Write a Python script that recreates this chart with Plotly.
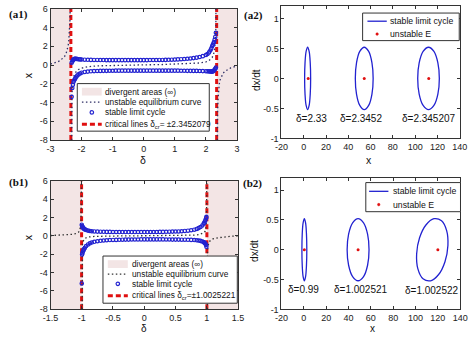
import plotly.graph_objects as go

W, H = 474, 338
def px(x): return x / W
def py(y): return 1 - y / H

# ---------------- data ----------------
DCR_A = 2.3452079
DCR_B = 1.0025221

# (a1) stable limit cycle branches
A1_D = [-2.32, -2.30, -2.28, -2.26, -2.24, -2.22, -2.20, -2.17, -2.14, -2.10, -2.05, -2.00,
        -1.9, -1.8, -1.7, -1.6, -1.5, -1.4, -1.3, -1.2, -1.1, -1.0, -0.9, -0.8, -0.7, -0.6,
        -0.5, -0.4, -0.3, -0.2, -0.1, 0.0, 0.1, 0.2, 0.3, 0.4, 0.5, 0.6, 0.7, 0.8, 0.9, 1.0,
        1.1, 1.2, 1.3, 1.4, 1.5, 1.6, 1.7, 1.8, 1.9,
        2.00, 2.05, 2.10, 2.14, 2.17, 2.20, 2.22, 2.24, 2.26, 2.28, 2.30, 2.32]
A1_UP = [0.25, 0.38, 0.50, 0.58, 0.63, 0.66, 0.67, 0.66, 0.64, 0.62, 0.60, 0.59,
         0.57, 0.56, 0.55, 0.54, 0.54, 0.53, 0.53, 0.52, 0.52, 0.52, 0.52, 0.52, 0.52, 0.52,
         0.52, 0.52, 0.52, 0.52, 0.52, 0.52, 0.52, 0.53, 0.53, 0.53, 0.54, 0.54, 0.55, 0.56, 0.57, 0.58,
         0.60, 0.62, 0.64, 0.67, 0.70, 0.74, 0.79, 0.86, 0.95,
         1.07, 1.18, 1.35, 1.55, 1.75, 2.00, 2.15, 2.30, 2.45, 2.70, 3.00, 3.45]
A1_LO = [-3.40, -2.45, -2.10, -1.80, -1.65, -1.52, -1.40, -1.25, -1.12, -1.00, -0.90, -0.82,
         -0.74, -0.70, -0.67, -0.65, -0.64, -0.63, -0.62, -0.62, -0.61, -0.61, -0.60, -0.60, -0.60, -0.60,
         -0.60, -0.60, -0.60, -0.60, -0.60, -0.60, -0.60, -0.60, -0.60, -0.60, -0.60, -0.60, -0.60, -0.60, -0.60, -0.60,
         -0.60, -0.61, -0.61, -0.62, -0.62, -0.63, -0.63, -0.64, -0.65,
         -0.66, -0.67, -0.68, -0.69, -0.70, -0.70, -0.68, -0.64, -0.58, -0.50, -0.40, -0.28]

# (a1) unstable equilibrium curve (three pieces separated by None)
A1_EQ_D = [-3.0, -2.9, -2.8, -2.7, -2.6, -2.55, -2.5, -2.46, -2.43, -2.41, -2.39, -2.375, -2.365, -2.355, -2.35, None,
           -2.34, -2.335, -2.33, -2.32, -2.31, -2.30, -2.28, -2.25, -2.2, -2.1, -2.0, -1.8, -1.5, -1.0, -0.5,
           0.0, 0.5, 1.0, 1.5, 1.8, 2.0, 2.1, 2.2, 2.25, 2.28, 2.30, 2.31, 2.32, 2.33, 2.335, 2.34, None,
           2.35, 2.355, 2.365, 2.375, 2.39, 2.41, 2.43, 2.46, 2.5, 2.55, 2.6, 2.7, 2.8, 2.9, 3.0]
A1_EQ_X = [0.12, 0.2, 0.3, 0.45, 0.7, 0.9, 1.2, 1.6, 2.1, 2.7, 3.6, 4.8, 6.5, 10, 20, None,
           -20, -9, -6, -4, -3, -2.4, -1.7, -1.2, -0.8, -0.48, -0.33, -0.18, -0.09, -0.03, 0.0,
           0.02, 0.04, 0.08, 0.14, 0.22, 0.33, 0.48, 0.8, 1.2, 1.7, 2.4, 3.0, 4.0, 6.0, 9, 20, None,
           -20, -10, -6.5, -4.8, -3.6, -2.5, -2.0, -1.55, -1.2, -0.9, -0.7, -0.45, -0.3, -0.2, -0.1]

# (b1) stable limit cycle branches
B1_D = [-1.000, -0.995, -0.99, -0.98, -0.97, -0.96, -0.95, -0.93, -0.90, -0.87, -0.84, -0.80, -0.75, -0.70,
        -0.65, -0.60, -0.55, -0.50, -0.45, -0.40, -0.35, -0.30, -0.25, -0.20, -0.15, -0.10, -0.05, 0.00,
        0.05, 0.10, 0.15, 0.20, 0.25, 0.30, 0.35, 0.40, 0.45, 0.50, 0.55, 0.60, 0.65,
        0.70, 0.75, 0.80, 0.84, 0.87, 0.90, 0.93, 0.95, 0.96, 0.97, 0.98, 0.99, 0.995]
B1_UP = [1.20, 1.08, 0.98, 0.88, 0.80, 0.74, 0.69, 0.62, 0.56, 0.52, 0.49, 0.47, 0.45, 0.44,
         0.43, 0.42, 0.42, 0.41, 0.41, 0.40, 0.40, 0.40, 0.40, 0.40, 0.40, 0.40, 0.40, 0.40,
         0.40, 0.41, 0.41, 0.41, 0.42, 0.42, 0.43, 0.44, 0.45, 0.46, 0.47, 0.49, 0.52,
         0.55, 0.60, 0.66, 0.74, 0.83, 0.95, 1.12, 1.30, 1.42, 1.55, 1.72, 1.90, 2.05]
B1_LO = [-5.20, -2.05, -1.90, -1.72, -1.55, -1.42, -1.30, -1.12, -0.95, -0.83, -0.74, -0.66, -0.60, -0.55,
         -0.52, -0.49, -0.47, -0.46, -0.45, -0.44, -0.43, -0.42, -0.42, -0.41, -0.41, -0.41, -0.40, -0.40,
         -0.40, -0.40, -0.40, -0.40, -0.40, -0.40, -0.41, -0.41, -0.42, -0.42, -0.42, -0.43, -0.43,
         -0.44, -0.45, -0.47, -0.49, -0.52, -0.56, -0.62, -0.69, -0.74, -0.80, -0.88, -1.00, -1.20]

# (b1) unstable equilibrium curve
B1_EQ_D = [-1.5, -1.4, -1.3, -1.2, -1.15, -1.1, -1.07, -1.05, -1.035, -1.025, -1.017, -1.012, -1.008, -1.006,
           -1.0045, -1.0035, -1.003, None,
           -1.002, -1.0015, -1.0005, -0.999, -0.997, -0.994, -0.99, -0.985, -0.975, -0.96, -0.93, -0.88, -0.8,
           -0.6, -0.3, 0.0, 0.3, 0.6, 0.8, 0.88, 0.93, 0.96, 0.975, 0.985, 0.99, 0.994, 0.997, 0.999, 1.0005,
           1.0015, 1.002, None,
           1.003, 1.0035, 1.0045, 1.006, 1.008, 1.012, 1.017, 1.025, 1.035, 1.05, 1.07, 1.1, 1.18, 1.3, 1.4, 1.5]
B1_EQ_X = [0.02, 0.04, 0.07, 0.12, 0.16, 0.22, 0.3, 0.4, 0.55, 0.75, 1.1, 1.6, 2.5, 3.5,
           6, 12, 25, None,
           -25, -12, -6, -3.5, -2.2, -1.5, -1.0, -0.72, -0.5, -0.35, -0.22, -0.13, -0.07,
           -0.03, -0.01, 0.0, 0.01, 0.03, 0.07, 0.13, 0.22, 0.35, 0.5, 0.72, 1.0, 1.5, 2.2, 3.5, 6,
           12, 25, None,
           -25, -12, -6, -3.5, -2.5, -1.7, -1.25, -0.95, -0.75, -0.58, -0.45, -0.34, -0.22, -0.1, -0.05, -0.02]

# (a2) limit cycles in phase plane
A2_C1_X = [6.2, 5.84, 4.85, 3.5, 2.15, 1.16, 0.8, 1.16, 2.15, 3.5, 4.85, 5.84, 6.2]
A2_C2_X = [62.3, 61.23, 58.3, 54.3, 50.3, 47.37, 46.3, 47.37, 50.3, 54.3, 58.3, 61.23, 62.3]
A2_C3_X = [121.7, 120.4, 116.85, 112, 107.15, 103.6, 102.3, 103.6, 107.15, 112, 116.85, 120.4, 121.7]
A2_C_Y = [0, 0.26, 0.45, 0.52, 0.45, 0.26, 0, -0.26, -0.45, -0.52, -0.45, -0.26, 0]
A2_E_X = [4.0, 54.3, 112.2]
A2_E_Y = [0, 0, 0]
A2_LABELS = ["δ=2.33", "δ=2.3452", "δ=2.345207"]
A2_LABEL_X = [6.9, 51.7, 112.5]
A2_LABEL_Y = [-0.67, -0.67, -0.67]

# (b2) limit cycles in phase plane
B2_C1_X = [2.7, 2.4, 1.6, 0.5, -0.6, -1.4, -1.7, -1.4, -0.6, 0.5, 1.6, 2.4, 2.7]
B2_C2_X = [58.4, 57.09, 53.5, 48.6, 43.7, 40.11, 38.8, 40.11, 43.7, 48.6, 53.5, 57.09, 58.4]
B2_C3_X = [129, 127.87, 123.3, 116.5, 109.3, 103.63, 101, 102.13, 106.7, 113.5, 120.7, 126.37, 129]
B2_C_Y = [0, 0.26, 0.45, 0.52, 0.45, 0.26, 0, -0.26, -0.45, -0.52, -0.45, -0.26, 0]
B2_C3_Y = [0.07, 0.32, 0.485, 0.52, 0.415, 0.2, -0.07, -0.32, -0.485, -0.52, -0.415, -0.2, 0.07]
B2_E_X = [0.5, 48.6, 120.0]
B2_E_Y = [0, 0, 0]
B2_LABELS = ["δ=0.99", "δ=1.002521", "δ=1.002522"]
B2_LABEL_X = [-0.5, 51.1, 114.5]
B2_LABEL_Y = [-0.66, -0.66, -0.68]

# ticks
X1_TICKS = [-3, -2, -1, 0, 1, 2, 3]
X1_TEXT = ["-3", "-2", "-1", "0", "1", "2", "3"]
Y1_TICKS = [6, 4, 2, 0, -2, -4, -6, -8]
Y1_TEXT = ["6", "4", "2", "0", "-2", "-4", "-6", "-8"]
X3_TICKS = [-1.5, -1, -0.5, 0, 0.5, 1, 1.5]
X3_TEXT = ["-1.5", "-1", "-0.5", "0", "0.5", "1", "1.5"]
X2_TICKS = [-20, 0, 20, 40, 60, 80, 100, 120, 140]
X2_TEXT = ["-20", "0", "20", "40", "60", "80", "100", "120", "140"]
Y2_TICKS = [-1, -0.5, 0, 0.5, 1]
Y2_TEXT = ["-1", "-0.5", "0", "0.5", "1"]

# ---------------- styles ----------------
FONT = "Arial, Liberation Sans, sans-serif"
SERIF = "Times New Roman, Liberation Serif, serif"
BLUE = "#2222d0"
RED = "#e01010"
PINK = "#f3e5e5"
EQ_A = "#2f2f66"
EQ_B = "#333333"
RED_DASH = "5px,3px"
EQ_DASH = "1.5px,2.5px"
LEG_SIZE = 8.3
TICK_SIZE = 9

fig = go.Figure()

def add_panel1(xa, ya, D, UP, LO, EQD, EQX, dcr, eqcol):
    for xv in (-dcr, dcr):
        fig.add_trace(go.Scatter(x=[xv, xv], y=[-8, 6], mode="lines", xaxis=xa, yaxis=ya,
                                 line=dict(color=RED, width=3, dash=RED_DASH), showlegend=False))
    fig.add_trace(go.Scatter(x=EQD, y=EQX, mode="lines", xaxis=xa, yaxis=ya, connectgaps=False,
                             line=dict(color=eqcol, width=1.3, dash=EQ_DASH), showlegend=False))
    for arr in (UP, LO):
        fig.add_trace(go.Scatter(x=D, y=arr, mode="markers", xaxis=xa, yaxis=ya, showlegend=False,
                                 marker=dict(symbol="circle-open", size=3.4, color=BLUE,
                                             line=dict(width=1.2, color=BLUE))))

add_panel1("x", "y", A1_D, A1_UP, A1_LO, A1_EQ_D, A1_EQ_X, DCR_A, EQ_A)
add_panel1("x3", "y3", B1_D, B1_UP, B1_LO, B1_EQ_D, B1_EQ_X, DCR_B, EQ_B)

def add_panel2(xa, ya, cycles, EX, EY):
    for cx, cy in cycles:
        fig.add_trace(go.Scatter(x=cx, y=cy, mode="lines", xaxis=xa, yaxis=ya, showlegend=False,
                                 line=dict(color=BLUE, width=1.3, shape="spline")))
    fig.add_trace(go.Scatter(x=EX, y=EY, mode="markers", xaxis=xa, yaxis=ya, showlegend=False,
                             marker=dict(symbol="circle", size=3, color=RED)))

add_panel2("x2", "y2", [(A2_C1_X, A2_C_Y), (A2_C2_X, A2_C_Y), (A2_C3_X, A2_C_Y)], A2_E_X, A2_E_Y)
add_panel2("x4", "y4", [(B2_C1_X, B2_C_Y), (B2_C2_X, B2_C_Y), (B2_C3_X, B2_C3_Y)], B2_E_X, B2_E_Y)

def ax(domain, rng, tv, tt, anchor):
    return dict(domain=domain, range=rng, tickvals=tv, ticktext=tt, anchor=anchor,
                showline=True, linecolor="#333", linewidth=1, mirror="ticks",
                ticks="inside", ticklen=3, tickcolor="#333", showgrid=False, zeroline=False,
                tickfont=dict(family=FONT, size=TICK_SIZE, color="#222"), fixedrange=True)

layout = dict(
    width=W, height=H, margin=dict(l=0, r=0, t=0, b=0),
    paper_bgcolor="white", plot_bgcolor="white", showlegend=False,
    xaxis=ax([px(44), px(237)], [-3, 3], X1_TICKS, X1_TEXT, "y"),
    yaxis=ax([py(139), py(4)], [-8, 6], Y1_TICKS, Y1_TEXT, "x"),
    xaxis2=ax([px(283), px(467.5)], [-20, 140], X2_TICKS, X2_TEXT, "y2"),
    yaxis2=ax([py(137.5), py(1.5)], [-1, 1.2], Y2_TICKS, Y2_TEXT, "x2"),
    xaxis3=ax([px(44), px(238)], [-1.5, 1.5], X3_TICKS, X3_TEXT, "y3"),
    yaxis3=ax([py(313.5), py(181)], [-8, 6], Y1_TICKS, Y1_TEXT, "x3"),
    xaxis4=ax([px(283), px(468)], [-20, 140], X2_TICKS, X2_TEXT, "y4"),
    yaxis4=ax([py(313.7), py(178.4)], [-1, 1.2], Y2_TICKS, Y2_TEXT, "x4"),
)
fig.update_layout(**layout)

shapes = []
# divergent areas
for xr, yr, lo, hi, dcr in (("x", "y", -3, 3, DCR_A), ("x3", "y3", -1.5, 1.5, DCR_B)):
    shapes.append(dict(type="rect", xref=xr, yref=yr + " domain", x0=lo, x1=-dcr, y0=0, y1=1,
                       fillcolor=PINK, line=dict(width=0), layer="below"))
    shapes.append(dict(type="rect", xref=xr, yref=yr + " domain", x0=dcr, x1=hi, y0=0, y1=1,
                       fillcolor=PINK, line=dict(width=0), layer="below"))

annotations = []
def text(x, y, s, size=9, xanchor="left", angle=0, family=FONT, color="#111", weight="normal"):
    annotations.append(dict(x=px(x), y=py(y), xref="paper", yref="paper", text=s, showarrow=False,
                            xanchor=xanchor, yanchor="middle", textangle=angle, borderpad=0,
                            font=dict(family=family, size=size, color=color, weight=weight)))

def legend1(box, sx0, sx1, tx, rows, eqcol, crit_text):
    x0, y0, x1, y1 = box
    shapes.append(dict(type="rect", xref="paper", yref="paper", x0=px(x0), x1=px(x1), y0=py(y1), y1=py(y0),
                       fillcolor="white", line=dict(color="#333", width=1), layer="above"))
    r1, r2, r3, r4 = rows
    shapes.append(dict(type="rect", xref="paper", yref="paper", x0=px(sx0), x1=px(sx1),
                       y0=py(r1 + 4), y1=py(r1 - 4), fillcolor=PINK, line=dict(width=0), layer="above"))
    shapes.append(dict(type="line", xref="paper", yref="paper", x0=px(sx0), x1=px(sx1), y0=py(r2), y1=py(r2),
                       line=dict(color=eqcol, width=1.3, dash=EQ_DASH), layer="above"))
    cxm = (sx0 + sx1) / 2
    shapes.append(dict(type="circle", xref="paper", yref="paper", x0=px(cxm - 1.8), x1=px(cxm + 1.8),
                       y0=py(r3 + 1.8), y1=py(r3 - 1.8), line=dict(color=BLUE, width=1.2), layer="above"))
    shapes.append(dict(type="line", xref="paper", yref="paper", x0=px(sx0), x1=px(sx1), y0=py(r4), y1=py(r4),
                       line=dict(color=RED, width=3, dash=RED_DASH), layer="above"))
    text(tx, r1, "divergent areas (∞)", size=LEG_SIZE)
    text(tx, r2, "unstable equilibrium curve", size=LEG_SIZE)
    text(tx, r3, "stable limit cycle", size=LEG_SIZE)
    text(tx, r4, crit_text, size=LEG_SIZE)

legend1((71.7, 81, 208.3, 130), 76.5, 97, 99.5, (89.3, 100, 110.7, 123), EQ_A,
        "critical lines δ<sub>cr</sub>= ±2.3452079")
legend1((98.3, 258.7, 237.3, 307.3), 103.3, 124, 126.8, (267, 277.3, 287.3, 299.5), EQ_B,
        "critical lines δ<sub>cr</sub>=±1.0025221")

def legend2(box, sx0, sx1, tx, rows):
    x0, y0, x1, y1 = box
    shapes.append(dict(type="rect", xref="paper", yref="paper", x0=px(x0), x1=px(x1), y0=py(y1), y1=py(y0),
                       fillcolor="white", line=dict(color="#333", width=1), layer="above"))
    r1, r2 = rows
    shapes.append(dict(type="line", xref="paper", yref="paper", x0=px(sx0), x1=px(sx1), y0=py(r1), y1=py(r1),
                       line=dict(color=BLUE, width=1.3), layer="above"))
    cxm = (sx0 + sx1) / 2
    shapes.append(dict(type="circle", xref="paper", yref="paper", x0=px(cxm - 1.3), x1=px(cxm + 1.3),
                       y0=py(r2 + 1.3), y1=py(r2 - 1.3), fillcolor=RED, line=dict(color=RED, width=0.5),
                       layer="above"))
    text(tx, r1, "stable limit cycle", size=LEG_SIZE + 0.4)
    text(tx, r2, "unstable E", size=LEG_SIZE + 0.4)

legend2((367, 8.3, 467, 36.7), 372, 392, 394.7, (16.7, 30))
legend2((370.3, 183, 468.3, 213), 373.7, 393.7, 397.7, (192, 205.7))

# delta labels in phase-plane panels
for lab, lx, ly in zip(A2_LABELS, A2_LABEL_X, A2_LABEL_Y):
    annotations.append(dict(x=lx, y=ly, xref="x2", yref="y2", text=lab, showarrow=False,
                            font=dict(family=FONT, size=10, color="#111")))
for lab, lx, ly in zip(B2_LABELS, B2_LABEL_X, B2_LABEL_Y):
    annotations.append(dict(x=lx, y=ly, xref="x4", yref="y4", text=lab, showarrow=False,
                            font=dict(family=FONT, size=10, color="#111")))

# axis titles
text(140, 160, "δ", size=10.5, xanchor="center")
text(21, 72, "x", size=10.5, xanchor="center", angle=-90)
text(374, 160, "x", size=10.5, xanchor="center")
text(257, 77, "dx/dt", size=10, xanchor="center", angle=-90)
text(141, 333.5, "δ", size=10, xanchor="center")
text(21, 239, "x", size=10.5, xanchor="center", angle=-90)
text(377, 333.5, "x", size=10, xanchor="center")
text(255, 253, "dx/dt", size=10, xanchor="center", angle=-90)

# panel labels
text(0, 10, "(a1)", size=11, family=SERIF, weight="bold")
text(243, 11, "(a2)", size=11, family=SERIF, weight="bold")
text(0, 183, "(b1)", size=11, family=SERIF, weight="bold")
text(242, 184, "(b2)", size=11, family=SERIF, weight="bold")

fig.update_layout(shapes=shapes, annotations=annotations)
fig.write_html("out.html")
